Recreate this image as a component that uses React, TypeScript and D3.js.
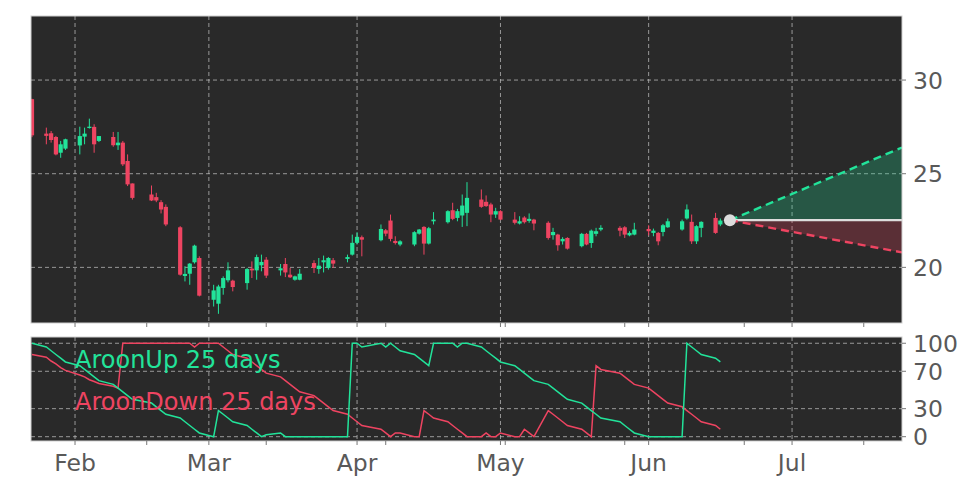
import * as d3 from 'd3'

// ---- Data ----
const DATES = [
  '2026-01-23', '2026-01-26', '2026-01-27', '2026-01-28', '2026-01-29', '2026-01-30',
  '2026-02-02', '2026-02-03', '2026-02-04', '2026-02-05', '2026-02-06',
  '2026-02-09', '2026-02-10', '2026-02-11', '2026-02-12', '2026-02-13',
  '2026-02-17', '2026-02-18', '2026-02-19', '2026-02-20',
  '2026-02-23', '2026-02-24', '2026-02-25', '2026-02-26', '2026-02-27',
  '2026-03-02', '2026-03-03', '2026-03-04', '2026-03-05', '2026-03-06',
  '2026-03-09', '2026-03-10', '2026-03-11', '2026-03-12', '2026-03-13',
  '2026-03-16', '2026-03-17', '2026-03-18', '2026-03-19', '2026-03-20',
  '2026-03-23', '2026-03-24', '2026-03-25', '2026-03-26', '2026-03-27',
  '2026-03-30', '2026-03-31', '2026-04-01', '2026-04-02',
  '2026-04-06', '2026-04-07', '2026-04-08', '2026-04-09', '2026-04-10',
  '2026-04-13', '2026-04-14', '2026-04-15', '2026-04-16', '2026-04-17',
  '2026-04-20', '2026-04-21', '2026-04-22', '2026-04-23', '2026-04-24',
  '2026-04-27', '2026-04-28', '2026-04-29', '2026-04-30', '2026-05-01',
  '2026-05-04', '2026-05-05', '2026-05-06', '2026-05-07', '2026-05-08',
  '2026-05-11', '2026-05-12', '2026-05-13', '2026-05-14', '2026-05-15',
  '2026-05-18', '2026-05-19', '2026-05-20', '2026-05-21', '2026-05-22',
  '2026-05-26', '2026-05-27', '2026-05-28', '2026-05-29',
  '2026-06-01', '2026-06-02', '2026-06-03', '2026-06-04', '2026-06-05',
  '2026-06-08', '2026-06-09', '2026-06-10', '2026-06-11', '2026-06-12',
  '2026-06-15', '2026-06-16',
]

const OPEN = [
  28.98, 27.14, 27.16, 26.96, 26.12, 26.34,
  26.51, 26.98, 27.44, 27.5, 26.75,
  26.96, 26.52, 26.66, 25.68, 24.48,
  23.89, 23.75, 23.48, 23.23,
  22.14, 19.54, 19.66, 20.27, 20.5,
  18.27, 18.06, 18.9, 19.31, 19.29,
  19.16, 19.93, 19.84, 20.11, 20.41,
  19.84, 20.18, 19.61, 19.34, 19.34,
  20.23, 19.91, 20.27, 19.97, 20.38,
  20.45, 20.68, 21.31, 21.61,
  21.45, 21.98, 22.5, 21.41, 21.22,
  21.22, 21.8, 22.16, 21.27, 22.46,
  22.41, 23.05, 22.64, 22.77, 22.91,
  23.62, 23.5, 23.36, 22.82, 23.0,
  22.55, 22.34, 22.66, 22.48, 22.55,
  22.38, 21.72, 21.75, 21.39, 21.57,
  21.13, 21.79, 21.3, 21.79, 22.02,
  22.11, 22.14, 21.71, 21.75,
  22.05, 21.84, 21.84, 21.89, 22.14,
  22.02, 22.61, 22.43, 21.39, 22.11,
  22.64, 22.29,
]

const HIGH = [
  29.0, 27.46, 27.28, 27.02, 26.75, 26.87,
  27.51, 27.46, 27.94, 27.64, 27.01,
  27.23, 27.23, 26.75, 26.03, 24.48,
  24.37, 23.98, 23.59, 23.36,
  22.2, 20.06, 20.23, 21.21, 20.59,
  19.07, 19.07, 19.52, 20.27, 19.34,
  19.97, 20.32, 20.68, 20.68, 20.55,
  20.18, 20.5, 19.97, 19.56, 19.91,
  20.38, 20.5, 20.63, 20.55, 20.5,
  20.68, 21.75, 21.88, 21.7,
  22.29, 22.05, 22.82, 21.66, 21.45,
  21.93, 22.05, 22.2, 22.16, 22.95,
  23.05, 23.45, 23.12, 23.89, 24.55,
  24.16, 23.84, 23.45, 23.18, 23.05,
  22.95, 22.73, 22.73, 22.88, 22.59,
  22.46, 22.11, 21.79, 21.61, 21.61,
  21.84, 21.84, 22.02, 22.11, 22.25,
  22.2, 22.2, 21.93, 22.38,
  22.25, 22.07, 21.89, 22.32, 22.61,
  22.55, 23.36, 22.82, 22.25, 22.46,
  22.91, 22.61,
]

const LOW = [
  26.95, 26.57, 26.66, 25.98, 25.85, 26.27,
  26.03, 26.57, 27.41, 26.12, 26.69,
  26.44, 26.27, 25.41, 24.34, 23.62,
  23.54, 23.48, 22.88, 22.2,
  19.56, 19.25, 19.07, 20.2, 18.45,
  17.91, 17.52, 18.54, 19.2, 18.72,
  18.81, 19.43, 19.34, 19.79, 19.43,
  19.56, 19.48, 19.43, 19.29, 19.31,
  19.7, 19.66, 19.73, 19.88, 19.97,
  20.27, 20.63, 21.22, 20.59,
  21.39, 21.66, 21.39, 21.22, 21.13,
  21.13, 21.75, 20.68, 21.22, 22.29,
  22.34, 22.52, 22.46, 22.16, 22.2,
  23.18, 23.23, 22.41, 22.64, 22.52,
  22.29, 22.29, 22.34, 22.38, 21.98,
  21.48, 21.48, 20.89, 21.22, 20.95,
  21.07, 21.18, 21.04, 21.66, 21.93,
  21.66, 21.57, 21.66, 21.71,
  21.71, 21.66, 21.18, 21.66, 22.11,
  21.96, 22.55, 21.25, 21.25, 21.61,
  21.79, 22.2,
]

const CLOSE = [
  27.05, 27.02, 26.8, 26.03, 26.57, 26.84,
  27.01, 27.14, 27.51, 26.57, 27.01,
  26.52, 26.66, 25.5, 24.43, 23.71,
  23.57, 23.57, 23.09, 22.29,
  19.61, 19.65, 20.2, 21.16, 18.49,
  18.77, 18.98, 19.43, 19.84, 18.95,
  19.91, 19.84, 20.55, 20.29, 19.56,
  19.95, 19.73, 19.47, 19.52, 19.66,
  19.97, 20.09, 20.38, 20.5, 20.2,
  20.55, 21.31, 21.63, 21.48,
  22.05, 21.8, 21.52, 21.3, 21.39,
  21.88, 22.02, 21.27, 22.09, 22.55,
  23.0, 22.59, 23.0, 23.3, 23.71,
  23.23, 23.27, 22.82, 23.0, 22.55,
  22.38, 22.46, 22.41, 22.59, 22.34,
  21.57, 21.89, 21.18, 21.52, 21.0,
  21.79, 21.22, 21.96, 21.93, 22.11,
  21.96, 21.75, 21.84, 22.02,
  21.93, 21.96, 21.39, 22.25, 22.46,
  22.46, 23.09, 21.39, 22.2, 22.43,
  21.84, 22.5,
]

const AROON_UP = [
  100, 96, 92, 88, 84, 80,
  76, 72, 68, 64, 60,
  56, 52, 48, 44, 40,
  36, 32, 28, 24,
  20, 16, 12, 8, 4,
  0, 28, 24, 20, 16,
  12, 8, 4, 0, 2,
  4, 0, 0, 0, 0,
  0, 0, 0, 0, 0,
  0, 100, 100, 96,
  100, 96, 100, 96, 92,
  88, 84, 80, 76, 100,
  100, 100, 96, 100, 100,
  96, 92, 88, 84, 80,
  76, 72, 68, 64, 60,
  56, 52, 48, 44, 40,
  36, 32, 28, 24, 20,
  16, 12, 8, 4,
  0, 0, 0, 0, 0,
  0, 100, 96, 92, 88,
  84, 80,
]

const AROON_DOWN = [
  88, 85, 81, 78, 74, 71,
  66, 64, 61, 59, 57,
  54, 52, 100, 100, 100,
  100, 100, 100, 100,
  100, 100, 100, 96, 100,
  100, 100, 96, 92, 88,
  84, 80, 76, 72, 68,
  64, 60, 56, 52, 48,
  44, 40, 36, 32, 28,
  24, 20, 16, 12,
  8, 4, 0, 4, 4,
  0, 0, 28, 24, 20,
  16, 12, 8, 4, 0,
  0, 4, 0, 0, 4,
  0, 0, 8, 4, 0,
  28, 24, 20, 16, 12,
  8, 4, 0, 76, 72,
  68, 64, 60, 56,
  52, 48, 44, 40, 36,
  32, 28, 24, 20, 16,
  12, 8,
]

// Forecast cone: start (last close) -> end of axis
const FORECAST_DATES = ['2026-06-18', '2026-07-24']
const FORECAST_MID = [22.52, 22.52]
const FORECAST_UPPER = [22.52, 26.4]
const FORECAST_LOWER = [22.52, 20.8]

const MONTH_TICKS = ['2026-02-01', '2026-03-01', '2026-04-01', '2026-05-01', '2026-06-01', '2026-07-01']
const MINOR_TICKS = ['2026-02-16', '2026-03-13', '2026-04-07', '2026-05-02', '2026-05-27', '2026-06-21', '2026-07-16']
const PRICE_TICKS = [20, 25, 30]
const AROON_TICKS = [0, 30, 70, 100]

const GREEN = '#22e39a'
const RED = '#ee4461'
const PANEL_BG = '#292929'
const GRID = 'rgba(190,190,190,0.75)'
const LABEL = '#595959'
const FONT = '"DejaVu Sans", sans-serif'

const parse = (s: string) => new Date(s + 'T00:00:00Z')

export default function App() {
  const W = 972
  const H = 486
  const left = 31
  const right = 902
  const top1 = 16
  const bot1 = 323
  const top2 = 337
  const bot2 = 441

  const x = d3
    .scaleUtc()
    .domain([new Date(Date.UTC(2026, 0, 22, 19)), new Date(Date.UTC(2026, 6, 24))])
    .range([left, right])
  const y = d3.scaleLinear().domain([17.03, 33.42]).range([bot1, top1])
  const ya = d3.scaleLinear().domain([-4.6, 106.7]).range([bot2, top2])

  const candles = DATES.map((d, i) => ({
    date: parse(d),
    o: OPEN[i],
    h: HIGH[i],
    l: LOW[i],
    c: CLOSE[i],
  }))
  const bodyW = 4.2

  const aroonLine = d3
    .line<number>()
    .x((_, i) => x(parse(DATES[i])))
    .y((v) => ya(v))
  const fd = FORECAST_DATES.map(parse)
  const coneArea = d3
    .area<number>()
    .x((_, i) => x(fd[i]))
    .y0((_, i) => y(FORECAST_MID[i]))
    .y1((v) => y(v))
  const fline = d3
    .line<number>()
    .x((_, i) => x(fd[i]))
    .y((v) => y(v))

  const monthFmt = d3.utcFormat('%b')

  return (
    <div style={{ position: 'fixed', left: 0, top: 0, width: W, height: H, background: '#fff' }}>
      <svg width={W} height={H} style={{ display: 'block' }} fontFamily={FONT}>
        <defs>
          <clipPath id="clip1">
            <rect x={left} y={top1} width={right - left} height={bot1 - top1} />
          </clipPath>
          <clipPath id="clip2">
            <rect x={left} y={top2} width={right - left} height={bot2 - top2} />
          </clipPath>
        </defs>

        {/* ---- Price panel ---- */}
        <rect x={left} y={top1} width={right - left} height={bot1 - top1} fill={PANEL_BG} />
        <g clipPath="url(#clip1)">
          {MONTH_TICKS.map((t) => (
            <line key={t} x1={x(parse(t))} x2={x(parse(t))} y1={top1} y2={bot1}
              stroke={GRID} strokeWidth={1} strokeDasharray="4,3" />
          ))}
          {PRICE_TICKS.map((t) => (
            <line key={t} x1={left} x2={right} y1={y(t)} y2={y(t)}
              stroke={GRID} strokeWidth={1} strokeDasharray="4,3" />
          ))}

          {/* forecast cone */}
          <path d={coneArea(FORECAST_UPPER) ?? ''} fill={GREEN} fillOpacity={0.25} />
          <path d={coneArea(FORECAST_LOWER) ?? ''} fill={RED} fillOpacity={0.25} />
          <path d={fline(FORECAST_MID) ?? ''} stroke="#dddddd" strokeWidth={2.2} fill="none" />
          <path d={fline(FORECAST_UPPER) ?? ''} stroke={GREEN} strokeWidth={2.4}
            strokeDasharray="8,5" fill="none" />
          <path d={fline(FORECAST_LOWER) ?? ''} stroke={RED} strokeWidth={2.4}
            strokeDasharray="8,5" fill="none" />

          {/* candles */}
          {candles.map((k, i) => {
            const col = k.c >= k.o ? GREEN : RED
            const cx = x(k.date)
            const yTop = y(Math.max(k.o, k.c))
            const yBot = y(Math.min(k.o, k.c))
            return (
              <g key={i}>
                <line x1={cx} x2={cx} y1={y(k.h)} y2={y(k.l)} stroke={col} strokeWidth={1} />
                <rect x={cx - bodyW / 2} y={yTop} width={bodyW}
                  height={Math.max(1.2, yBot - yTop)} fill={col} />
              </g>
            )
          })}

          <circle cx={x(fd[0])} cy={y(FORECAST_MID[0])} r={6} fill="#dcdcdc" />
        </g>
        <rect x={left} y={top1} width={right - left} height={bot1 - top1}
          fill="none" stroke="#cfcfcf" strokeWidth={1} />

        {/* price axis (right) */}
        {PRICE_TICKS.map((t) => (
          <g key={t}>
            <line x1={right} x2={right + 4} y1={y(t)} y2={y(t)} stroke="#777" strokeWidth={1} />
            <text x={right + 11} y={y(t)} dy="0.36em" fontSize={23.5} fill={LABEL}>{t}</text>
          </g>
        ))}
        {/* bottom ticks of price panel */}
        {MONTH_TICKS.concat(MINOR_TICKS).map((t) => (
          <line key={t} x1={x(parse(t))} x2={x(parse(t))} y1={bot1} y2={bot1 + 4}
            stroke="#777" strokeWidth={1} />
        ))}

        {/* ---- Aroon panel ---- */}
        <rect x={left} y={top2} width={right - left} height={bot2 - top2} fill={PANEL_BG} />
        <g clipPath="url(#clip2)">
          {MONTH_TICKS.map((t) => (
            <line key={t} x1={x(parse(t))} x2={x(parse(t))} y1={top2} y2={bot2}
              stroke={GRID} strokeWidth={1} strokeDasharray="4,3" />
          ))}
          {AROON_TICKS.map((t) => (
            <line key={t} x1={left} x2={right} y1={ya(t)} y2={ya(t)}
              stroke={GRID} strokeWidth={1} strokeDasharray="4,3" />
          ))}
          <path d={aroonLine(AROON_DOWN) ?? ''} stroke={RED} strokeWidth={1.5} fill="none" />
          <path d={aroonLine(AROON_UP) ?? ''} stroke={GREEN} strokeWidth={1.5} fill="none" />
          <text x={75} y={368} fontSize={24} fill={GREEN}>AroonUp 25 days</text>
          <text x={75} y={410} fontSize={24} fill={RED}>AroonDown 25 days</text>
        </g>
        <rect x={left} y={top2} width={right - left} height={bot2 - top2}
          fill="none" stroke="#cfcfcf" strokeWidth={1} />

        {AROON_TICKS.map((t) => (
          <g key={t}>
            <line x1={right} x2={right + 4} y1={ya(t)} y2={ya(t)} stroke="#777" strokeWidth={1} />
            <text x={right + 11} y={ya(t)} dy="0.36em" fontSize={23.5} fill={LABEL}>{t}</text>
          </g>
        ))}
        {MONTH_TICKS.concat(MINOR_TICKS).map((t) => (
          <line key={t} x1={x(parse(t))} x2={x(parse(t))} y1={bot2} y2={bot2 + 4}
            stroke="#777" strokeWidth={1} />
        ))}
        {MONTH_TICKS.map((t) => (
          <text key={t} x={x(parse(t))} y={471} textAnchor="middle" fontSize={23.5} fill={LABEL}>
            {monthFmt(parse(t))}
          </text>
        ))}
      </svg>
    </div>
  )
}
